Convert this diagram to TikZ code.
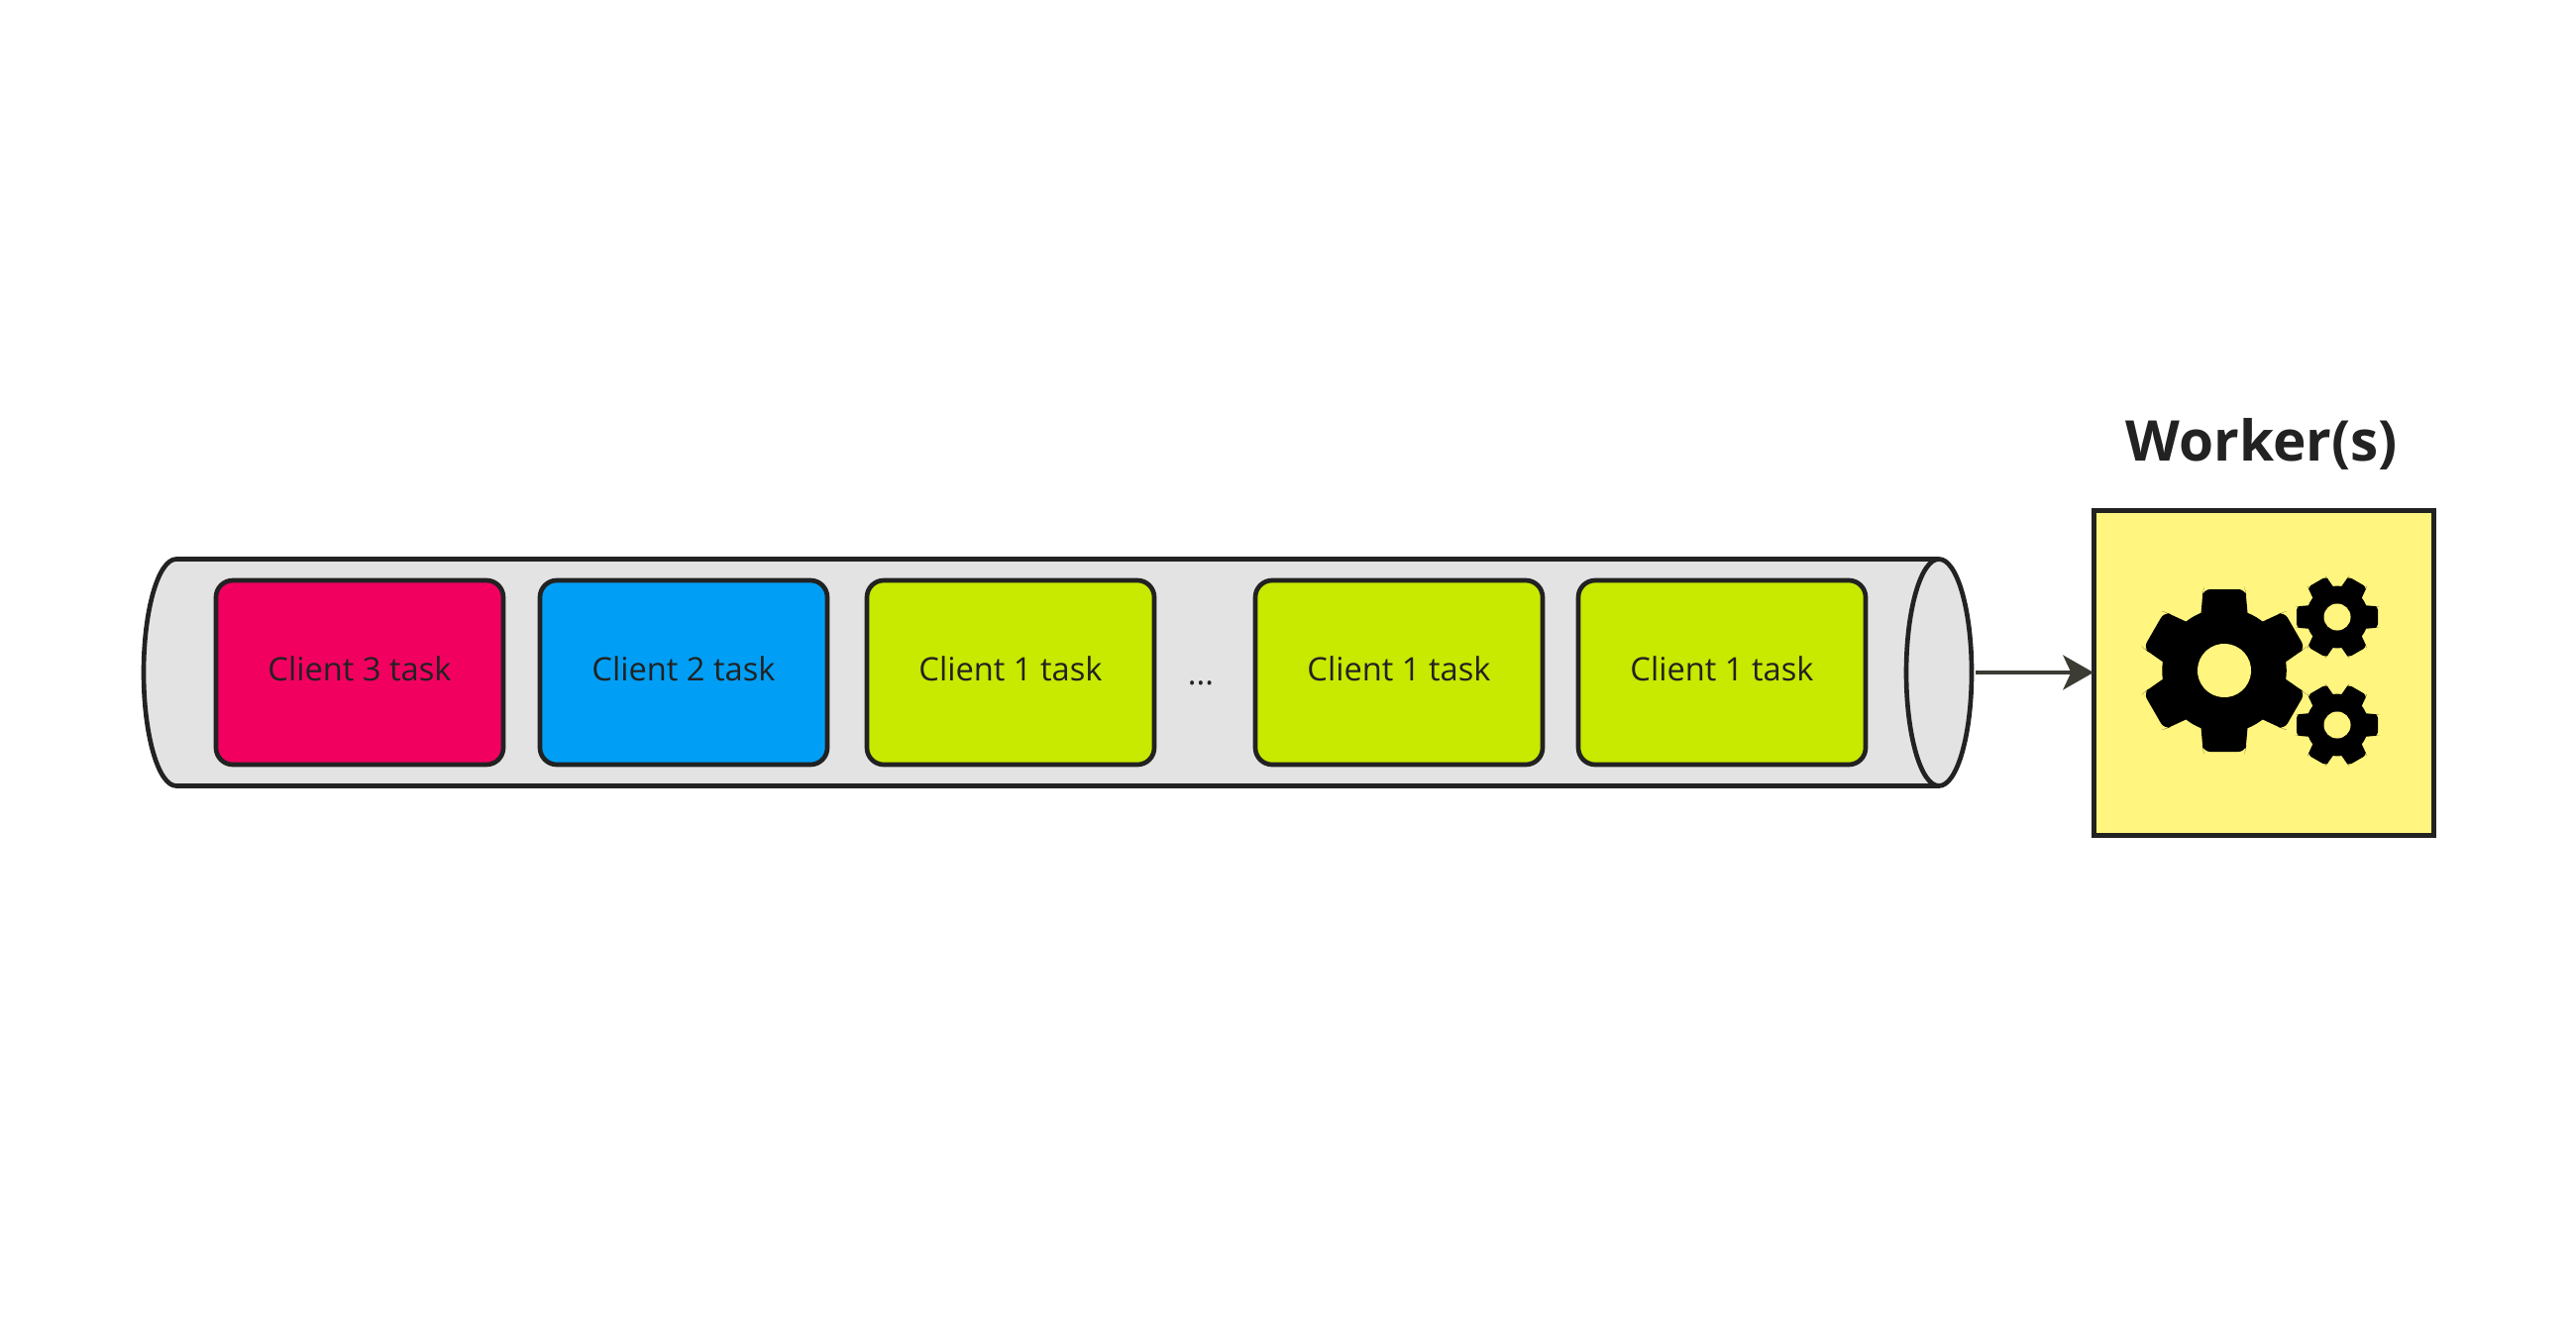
\documentclass[tikz,border=0pt]{standalone}
\usepackage{fontspec}
\setmainfont{Open Sans}
\usetikzlibrary{arrows.meta,shapes.geometric}
\definecolor{inkc}{HTML}{222222}
\definecolor{arrowc}{HTML}{3C3C34}
\definecolor{tubec}{HTML}{E3E3E3}
\definecolor{pinkc}{HTML}{F20060}
\definecolor{bluec}{HTML}{009FF5}
\definecolor{limec}{HTML}{C8E900}
\definecolor{yellowc}{HTML}{FFF57F}
\newcommand{\drawgear}[5]{% x, y, radius(px), rotation, corner
  \begin{scope}[shift={(#1,#2)},rotate=#4]
    \foreach \a in {0,60,...,300}{
      \fill[black,rotate=\a,rounded corners=#5]
        (0.55*#3,-0.30*#3) -- (0.95*#3,-0.265*#3) -- (1.0*#3,-0.255*#3) -- (1.0*#3,0.255*#3) -- (0.95*#3,0.265*#3) -- (0.55*#3,0.30*#3) -- cycle;
    }
    \fill[black] (0,0) circle ({0.765*#3});
    \fill[yellowc] (0,0) circle ({0.33*#3});
  \end{scope}
}
\tikzset{
  x=0.75pt,y=-0.75pt,
  taskbox/.style={draw=inkc,line width=3.5pt,rounded corners=12.75pt,minimum width=217.5pt,minimum height=139.5pt,inner sep=0pt,outer sep=0pt,
    text=inkc,font=\fontsize{24.5pt}{28pt}\selectfont,text height=18.75pt,text depth=6.75pt},
  tubeline/.style={draw=inkc,line width=3.5pt},
}
\begin{document}
\begin{tikzpicture}
\useasboundingbox (0,0) rectangle (2600,1356);
\fill[white] (0,0) rectangle (2600,1356);
% tube
\path[fill=tubec,tubeline] (1957,564.5) -- (178,564.5) .. controls (159.8,564.5) and (145,615.8) .. (145,679) .. controls (145,742.2) and (159.8,793.5) .. (178,793.5) -- (1957,793.5);
\node[ellipse,draw=inkc,fill=tubec,line width=3.5pt,minimum width=49.5pt,minimum height=171.75pt,inner sep=0pt,outer sep=0pt] (cap) at (1957,679) {};
% tasks
\node[taskbox,fill=pinkc] (t3) at (363,679) {Client 3 task};
\node[taskbox,fill=bluec] (t2) at (690,679) {Client 2 task};
\node[taskbox,fill=limec] (t1a) at (1020,679) {Client 1 task};
\node[font=\fontsize{24.5pt}{28pt}\selectfont,text=inkc,anchor=base,inner sep=0pt] (dots) at (1212,691) {...};
\node[taskbox,fill=limec] (t1b) at (1412,679) {Client 1 task};
\node[taskbox,fill=limec] (t1c) at (1738,679) {Client 1 task};
% worker
\node[draw=inkc,fill=yellowc,line width=3.75pt,minimum width=257.25pt,minimum height=246pt,inner sep=0pt,outer sep=0pt] (worker) at (2284.5,679) {};
\node[font=\bfseries\fontsize{42.5pt}{48pt}\selectfont,text=inkc,anchor=base,inner sep=0pt] (wlabel) at (2283,465) {Worker(s)};
\drawgear{2245}{677}{82}{30}{5pt}
\drawgear{2359}{623}{41}{0}{2.5pt}
\drawgear{2359}{732}{41}{0}{2.5pt}
% arrow
\draw[draw=arrowc,line width=3.6pt,shorten <=3pt,-{Stealth[length=23pt,width=26pt,inset=6pt]}] (cap.east) -- (worker.west);
\end{tikzpicture}
\end{document}
